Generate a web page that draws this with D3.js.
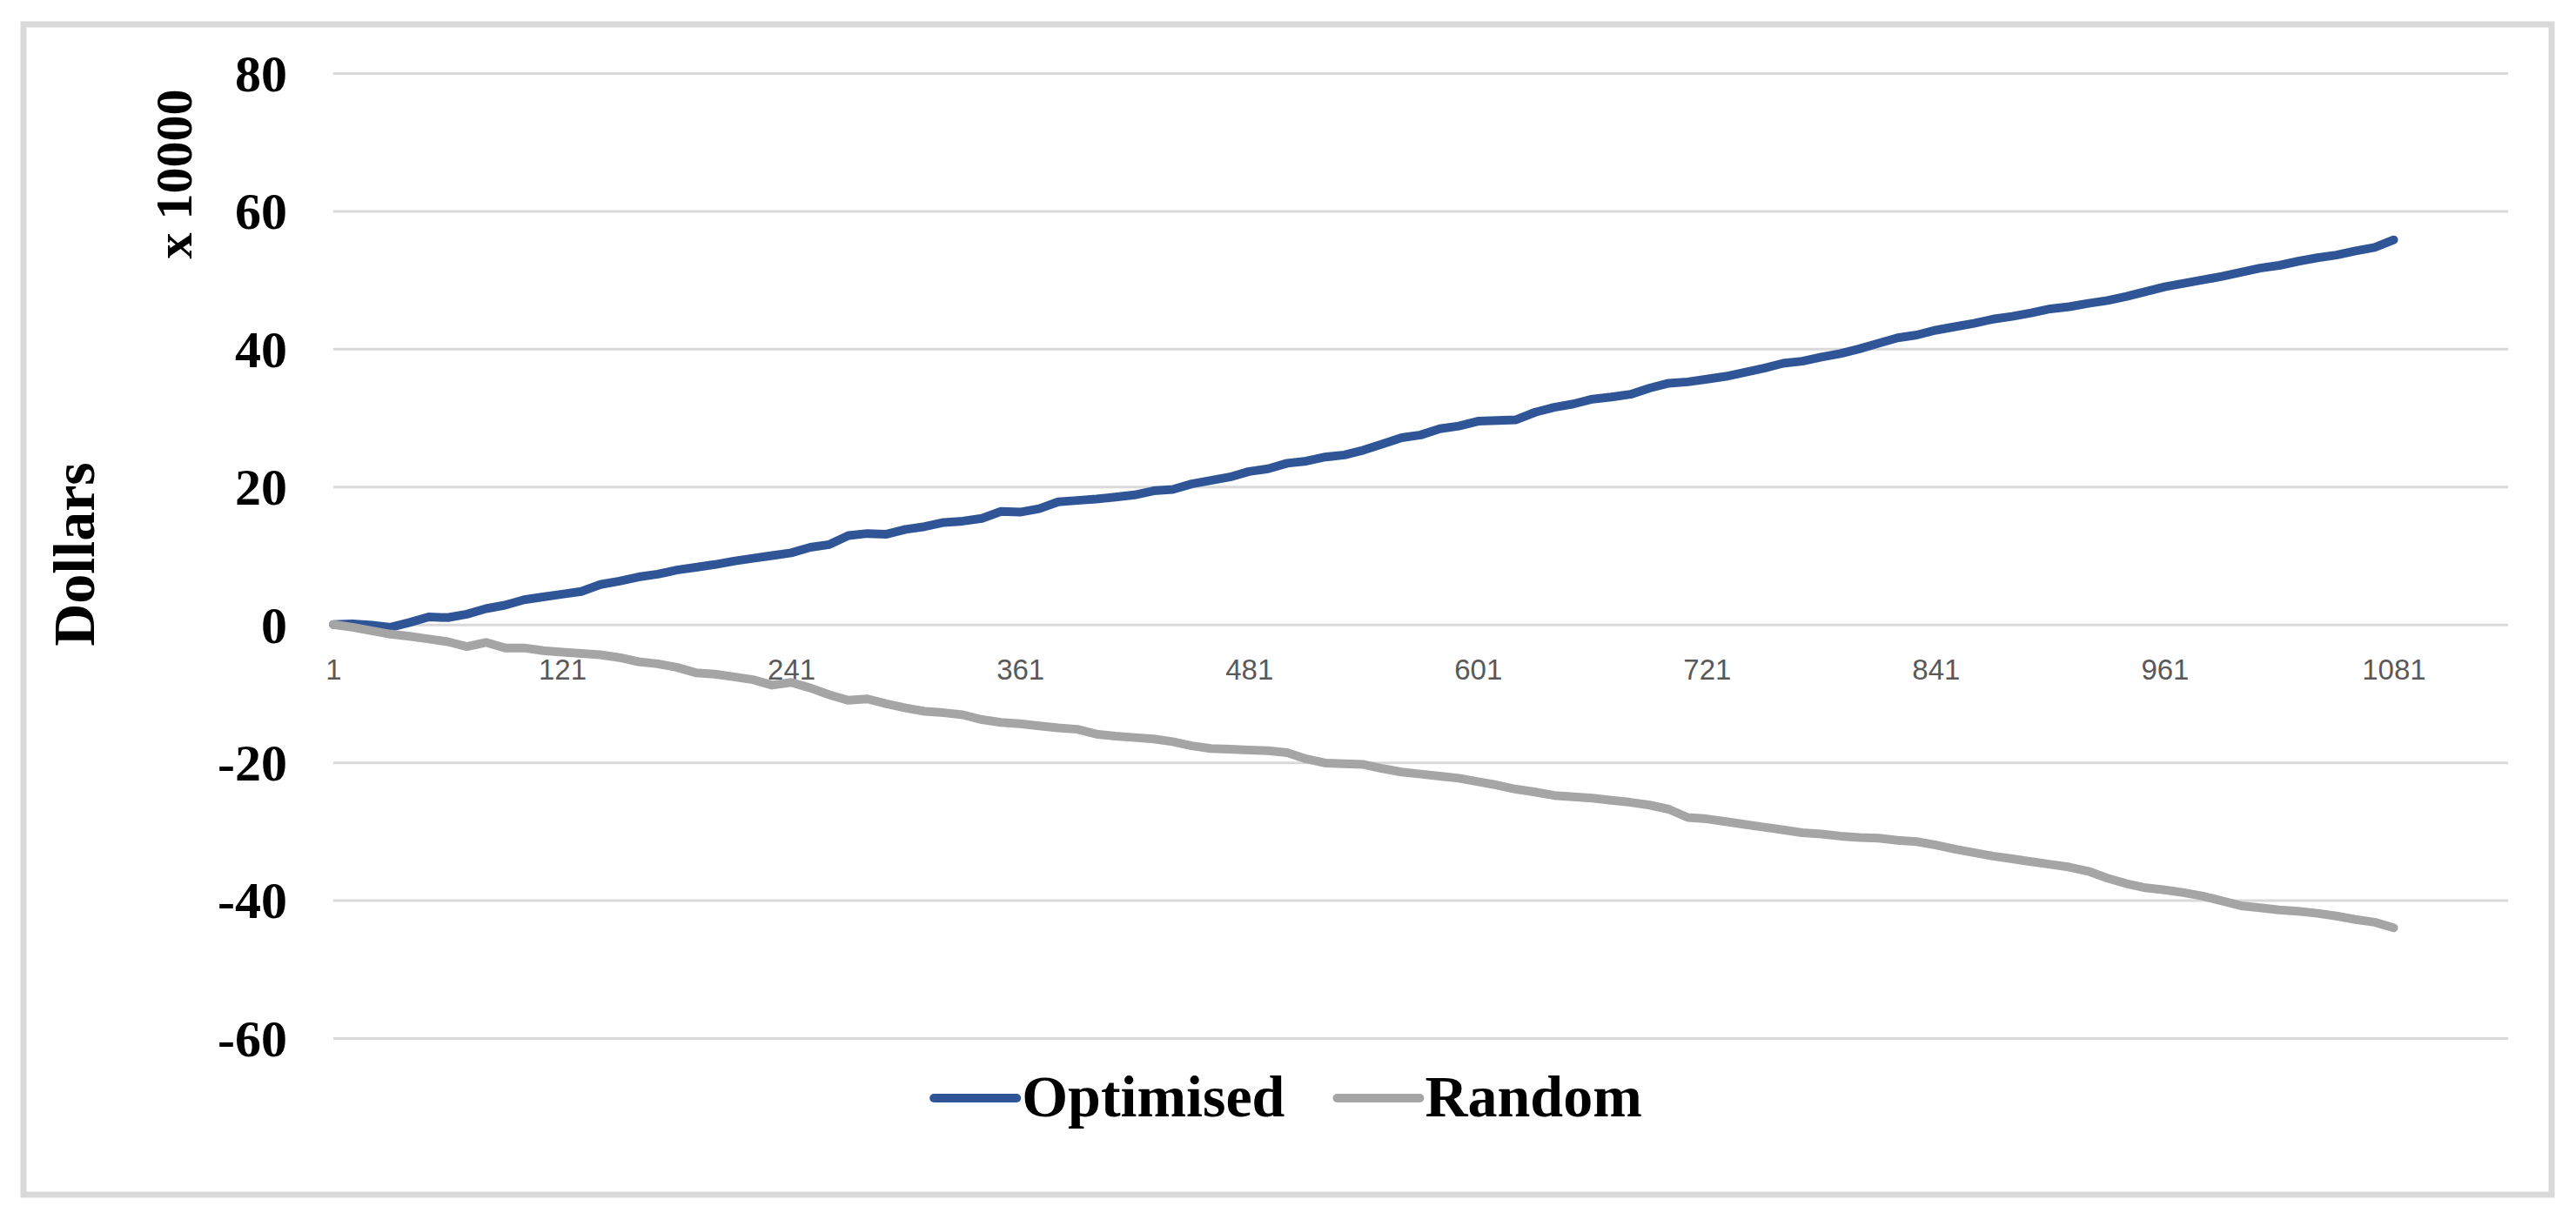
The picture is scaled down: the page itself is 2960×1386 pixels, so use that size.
<!DOCTYPE html>
<html>
<head>
<meta charset="utf-8">
<script src="https://cdn.jsdelivr.net/npm/d3@7"></script>
<style>
  body { margin: 0; background: #fff; }
  svg { display: block; }
</style>
</head>
<body>
<svg id="chart" width="2960" height="1386"></svg>
<script>
// small stand-in for d3-selection-multi
d3.selection.prototype.attrs = function (o) {
  for (let k in o) this.attr(k, o[k])
  return this
}

// values in units of x 10000 dollars, one reading every 10 days starting at day 1
let optimised = [
  0.0, 0.1, -0.1, -0.4, 0.3, 1.1, 1.0, 1.5, 2.3, 2.8,
  3.6, 4.0, 4.4, 4.8, 5.8, 6.3, 6.9, 7.3, 7.9, 8.3,
  8.7, 9.2, 9.6, 10.0, 10.4, 11.2, 11.6, 12.9, 13.2, 13.1,
  13.8, 14.2, 14.8, 15.0, 15.4, 16.4, 16.3, 16.8, 17.8, 18.0,
  18.2, 18.5, 18.8, 19.4, 19.6, 20.4, 20.9, 21.4, 22.2, 22.6,
  23.4, 23.7, 24.3, 24.6, 25.3, 26.2, 27.1, 27.5, 28.4, 28.8,
  29.5, 29.6, 29.7, 30.8, 31.5, 32.0, 32.7, 33.0, 33.4, 34.3,
  35.0, 35.2, 35.6, 36.0, 36.6, 37.2, 37.9, 38.2, 38.8, 39.3,
  40.0, 40.8, 41.6, 42.0, 42.7, 43.2, 43.7, 44.3, 44.7, 45.2,
  45.8, 46.1, 46.6, 47.0, 47.6, 48.3, 49.0, 49.5, 50.0, 50.5,
  51.1, 51.7, 52.1, 52.7, 53.2, 53.6, 54.2, 54.7, 55.8
]

let random = [
  0.0, -0.4, -0.9, -1.4, -1.7, -2.1, -2.5, -3.2, -2.6, -3.4,
  -3.4, -3.8, -4.0, -4.2, -4.4, -4.8, -5.4, -5.7, -6.2, -7.0,
  -7.2, -7.6, -8.0, -8.8, -8.4, -9.2, -10.2, -11.0, -10.8, -11.5,
  -12.1, -12.6, -12.8, -13.1, -13.8, -14.2, -14.4, -14.7, -15.0, -15.2,
  -15.9, -16.2, -16.4, -16.6, -17.0, -17.6, -18.0, -18.1, -18.2, -18.3,
  -18.6, -19.5, -20.1, -20.2, -20.3, -20.9, -21.4, -21.7, -22.0, -22.3,
  -22.8, -23.3, -23.9, -24.3, -24.8, -25.0, -25.2, -25.5, -25.8, -26.2,
  -26.8, -28.0, -28.2, -28.6, -29.0, -29.4, -29.8, -30.2, -30.4, -30.7,
  -30.9, -31.0, -31.3, -31.5, -32.0, -32.6, -33.1, -33.6, -34.0, -34.4,
  -34.8, -35.2, -35.8, -36.8, -37.6, -38.2, -38.5, -38.9, -39.4, -40.1,
  -40.8, -41.1, -41.4, -41.6, -41.9, -42.3, -42.8, -43.2, -44.0
]

let day_step = 10,
    series_names = ["Optimised", "Random"],
    series_colors = ["#2F5597", "#A5A5A5"],
    x_ticks = [1, 121, 241, 361, 481, 601, 721, 841, 961, 1081],
    y_ticks = [-60, -40, -20, 0, 20, 40, 60, 80],
    x_domain = [1, 1141],
    y_domain = [-60, 80]

let svg = d3.select("#chart"),
    plot = {left: 383, right: 2882, top: 84, bottom: 1193}

let x = d3.scaleLinear().domain(x_domain).range([plot.left, plot.right]),
    y = d3.scaleLinear().domain(y_domain).range([plot.bottom, plot.top])

svg.append("rect")
  .attrs({x: 0, y: 0, width: 2960, height: 1386, fill: "#fff"})

// chart area border
svg.append("rect")
  .attrs({x: 27, y: 28, width: 2905, height: 1345, fill: "none",
          stroke: "#D9D9D9", "stroke-width": 7})

// gridlines + y labels
let yAxis = svg.append("g")
  .attr("transform", `translate(${plot.left},0)`)
  .call(d3.axisLeft(y)
    .tickValues(y_ticks)
    .tickSize(-(plot.right - plot.left))
    .tickPadding(53)
    .tickFormat(d => String(d)))
yAxis.select(".domain").remove()
yAxis.selectAll("line").attrs({stroke: "#D9D9D9", "stroke-width": 3})
yAxis.selectAll("text")
  .attrs({fill: "#000", "font-family": "'Liberation Serif', 'Times New Roman', serif",
          "font-weight": "bold", "font-size": 60, dy: "0.34em"})

// category labels sit under the zero line
let xAxis = svg.append("g")
  .attr("transform", `translate(0,${y(0)})`)
  .call(d3.axisBottom(x)
    .tickValues(x_ticks)
    .tickSize(0)
    .tickPadding(40)
    .tickFormat(d => String(d)))
xAxis.select(".domain").remove()
xAxis.selectAll("text")
  .attrs({fill: "#595959", "font-family": "'Liberation Sans', Arial, sans-serif",
          "font-size": 33})

let line = d3.line()
  .x((d, i) => x(1 + i * day_step))
  .y(d => y(d))

let data = [optimised, random]
svg.append("g").selectAll("path")
  .data(data).enter()
  .append("path")
  .attrs({
    d: d => line(d),
    fill: "none",
    stroke: (d, i) => series_colors[i],
    "stroke-width": 10,
    "stroke-linejoin": "round",
    "stroke-linecap": "round"
  })

// axis titles
svg.append("text")
  .attrs({transform: "translate(108,637) rotate(-90)", "text-anchor": "middle",
          "font-family": "'Liberation Serif', 'Times New Roman', serif",
          "font-weight": "bold", "font-size": 68, fill: "#000"})
  .text("Dollars")

svg.append("text")
  .attrs({transform: "translate(220,200) rotate(-90)", "text-anchor": "middle",
          "font-family": "'Liberation Serif', 'Times New Roman', serif",
          "font-weight": "bold", "font-size": 60, fill: "#000"})
  .text("x 10000")

// legend, centred under the chart area
let legend = svg.append("g"),
    items = legend.selectAll("g")
      .data(series_names).enter()
      .append("g")

items.append("line")
  .attrs({x1: 0, x2: 95, y1: 0, y2: 0,
          stroke: (d, i) => series_colors[i], "stroke-width": 10,
          "stroke-linecap": "round"})
items.append("text")
  .attrs({x: 101, y: 21, "font-family": "'Liberation Serif', 'Times New Roman', serif",
          "font-weight": "bold", "font-size": 68, fill: "#000"})
  .text(d => d)

let offset = 0
items.each(function () {
  let g = d3.select(this)
  g.attr("transform", `translate(${offset},0)`)
  offset += 101 + g.select("text").node().getComputedTextLength() + 60
})
let total = offset - 60
legend.attr("transform", `translate(${1480 - total / 2},1262)`)
</script>
</body>
</html>
